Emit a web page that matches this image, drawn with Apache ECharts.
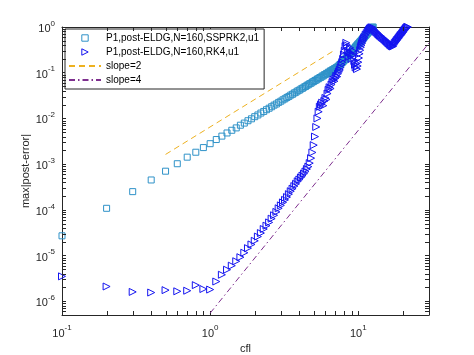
<!DOCTYPE html>
<html><head><meta charset="utf-8">
<script src="https://cdn.jsdelivr.net/npm/echarts@6/dist/echarts.min.js"></script>
<style>html,body{margin:0;padding:0;background:#fff}#c{width:474px;height:355px}</style>
</head><body><div id="c"></div>
<script>
// ---- data ----
const cflSq = [0.1,0.2,0.3,0.4,0.5,0.6,0.7,0.8,0.9,1.0,1.1,1.2,1.3,1.4,1.5,1.6,1.7,1.8,1.9,2.0,
  2.1,2.2,2.3,2.4,2.5,2.6,2.7,2.8,2.9,3.0,3.1,3.2,3.3,3.4,3.5,3.6,3.7,3.8,3.9,4.0,
  4.1,4.2,4.3,4.4,4.5,4.6,4.7,4.8,4.9,5.0,5.1,5.2,5.3,5.4,5.5,5.6,5.7,5.8,5.9,6.0,
  6.1,6.2,6.3,6.4,6.5,6.6,6.7,6.8,6.9,7.0,7.1,7.2,7.3,7.4,7.5,7.6,7.7,7.8,7.9,8.0,
  8.1,8.2,8.3,8.4,8.5,8.6,8.7,8.8,8.9,9.0,9.1,9.2,9.3,9.4,9.5,9.6,9.7,9.8,9.9,10.0,
  10.1,10.2,10.3,10.4,10.5,10.6,10.7,10.8,10.9,11.0,11.1,11.2,11.3,11.4,11.5,11.6,11.7,11.8,11.9,12.0,
  12.1,12.2,12.3,12.4,12.5,12.6];
const errSq = [2.7e-5,1.08e-4,2.5e-4,4.5e-4,7.0e-4,1.02e-3,1.42e-3,1.82e-3,2.3e-3,2.8e-3,
  3.45e-3,4.1e-3,4.8e-3,5.5e-3,6.2e-3,7.1e-3,7.9e-3,8.9e-3,9.8e-3,1.09e-2,
  1.19e-2,1.31e-2,1.42e-2,1.55e-2,1.67e-2,1.80e-2,1.95e-2,2.07e-2,2.24e-2,2.38e-2,
  2.55e-2,2.69e-2,2.88e-2,3.03e-2,3.24e-2,3.38e-2,3.61e-2,3.76e-2,4.0e-2,4.15e-2,
  4.41e-2,4.56e-2,4.84e-2,4.98e-2,5.3e-2,5.45e-2,5.76e-2,5.9e-2,6.26e-2,6.4e-2,
  6.77e-2,6.9e-2,7.3e-2,7.42e-2,7.85e-2,7.95e-2,8.45e-2,8.5e-2,9.05e-2,9.1e-2,
  9.65e-2,9.7e-2,0.103,0.103,0.11,0.11,0.116,0.117,0.123,0.124,
  0.13,0.132,0.138,0.142,0.15,0.155,0.163,0.168,0.177,0.183,
  0.193,0.2,0.21,0.218,0.23,0.24,0.252,0.262,0.276,0.287,
  0.3,0.31,0.325,0.338,0.355,0.37,0.385,0.4,0.415,0.43,
  0.445,0.46,0.478,0.495,0.515,0.53,0.55,0.57,0.59,0.61,
  0.63,0.655,0.675,0.7,0.72,0.745,0.77,0.8,0.825,0.85,
  0.88,0.905,0.935,0.96,0.985,1.0];
const cflRk = [0.1,0.2,0.3,0.4,0.5,0.6,0.7,0.8,0.9,1.0,1.1,1.2,1.3,1.4,1.5,1.6,1.7,1.8,1.9,2.0,
  2.1,2.2,2.3,2.4,2.5,2.6,2.7,2.8,2.9,3.0,3.1,3.2,3.3,3.4,3.5,3.6,3.7,3.8,3.9,4.0,
  4.1,4.2,4.3,4.4,4.5,4.6,4.7,4.8,4.9,5.0,5.1,5.2,5.3,5.4,5.5,5.6,5.7,5.8,5.9,6.0,
  6.1,6.2,6.3,6.4,6.5,6.6,6.7,6.8,6.9,7.0,7.1,7.2,7.3,7.4,7.5,7.6,7.7,7.8,7.9,8.0,
  8.1,8.2,8.3,8.4,8.5,8.6,8.7,8.8,8.9,9.0,9.1,9.2,9.3,9.4,9.5,9.6,9.7,9.8,9.9,10.0,
  10.1,10.2,10.3,10.4,10.5,10.6,10.7,10.8,10.9,11.0,
  11.2,11.4,11.6,11.8,12.0,12.2,12.4,12.6,12.8,13.0,
  13.2,13.4,13.6,13.8,14.0,14.2,14.4,14.6,14.8,15.0,
  15.2,15.4,15.6,15.8,16.0,16.2,16.4,16.6,16.8,17.0,
  17.2,17.4,17.6,17.8,18.0,18.2,18.4,18.6,18.8,19.0,
  19.2,19.4,19.6,19.8,20.0,20.2,20.4,20.6,20.8,21.0,
  21.2,21.4,21.6];
const errRk = [3.5e-6,2.1e-6,1.6e-6,1.55e-6,1.75e-6,1.65e-6,1.7e-6,2.25e-6,1.85e-6,1.8e-6,
  2.7e-6,3.8e-6,4.9e-6,6.0e-6,7.5e-6,9.2e-6,1.15e-5,1.45e-5,1.75e-5,2.1e-5,
  2.6e-5,3.1e-5,3.8e-5,4.5e-5,5.3e-5,6.4e-5,7.6e-5,9.0e-5,1.08e-4,1.25e-4,
  1.45e-4,1.65e-4,1.9e-4,2.2e-4,2.55e-4,2.9e-4,3.3e-4,3.7e-4,4.2e-4,4.6e-4,
  5.1e-4,5.6e-4,6.2e-4,6.9e-4,7.8e-4,8.8e-4,1.05e-3,1.35e-3,1.8e-3,2.6e-3,
  4.0e-3,6.5e-3,1.0e-2,1.4e-2,1.8e-2,2.0e-2,2.2e-2,1.9e-2,2.4e-2,2.8e-2,
  2.6e-2,3.5e-2,4.2e-2,4.8e-2,4.5e-2,5.5e-2,6.2e-2,7.0e-2,6.5e-2,7.5e-2,
  8.5e-2,8.2e-2,9.5e-2,0.105,0.115,0.13,0.15,0.17,0.2,0.25,
  0.3,0.38,0.45,0.4,0.3,0.22,0.28,0.35,0.26,0.2,
  0.24,0.3,0.25,0.18,0.15,0.13,0.16,0.12,0.14,0.17,
  0.21,0.26,0.31,0.36,0.4,0.44,0.48,0.52,0.56,0.6,
  0.67,0.73,0.8,0.87,0.93,0.97,0.99,0.93,0.87,0.82,
  0.78,0.75,0.71,0.68,0.65,0.63,0.6,0.58,0.56,0.54,
  0.52,0.5,0.48,0.46,0.44,0.43,0.41,0.4,0.385,0.375,
  0.38,0.41,0.44,0.46,0.48,0.51,0.53,0.555,0.58,0.61,
  0.64,0.665,0.69,0.72,0.76,0.79,0.83,0.87,0.9,0.94,
  0.97,1.0,1.0];
const slope2Cfl = [0.5, 7];
const slope2Err = [1.63e-3, 0.318];
const slope4Cfl = [1, 30];
const slope4Err = [5.5e-7, 0.4455];
const seriesNames = ['P1,post-ELDG,N=160,SSPRK2,u1', 'P1,post-ELDG,N=160,RK4,u1', 'slope=2', 'slope=4'];
const xTickExps = [-1, 0, 1];
const yTickExps = [-6, -5, -4, -3, -2, -1, 0];
const xName = 'cfl';
const yName = 'max|post-error|';
const xRange = [0.1, 30];
const yRange = [5e-7, 1];

// ---- helpers ----
const zip = (a, b) => a.map((v, i) => [v, b[i]]);
const FONT = 'Liberation Sans, Arial, Helvetica, sans-serif';
const AX = '#262626';
function expLabel(exps) {
  return function (v) {
    const l = Math.log10(v), e = Math.round(l);
    if (Math.abs(l - e) > 1e-6 || exps.indexOf(e) < 0) return '';
    return '{b|10}{s|' + e + '}';
  };
}
const rich = {
  b: {fontSize: 11, fontFamily: FONT, color: AX, lineHeight: 15, verticalAlign: 'bottom'},
  s: {fontSize: 8, fontFamily: FONT, color: AX, lineHeight: 15, verticalAlign: 'top'}
};
function minorValues(lo, hi) {
  const out = [];
  for (let e = Math.floor(Math.log10(lo)); e <= Math.ceil(Math.log10(hi)); e++) {
    for (let m = 2; m <= 9; m++) {
      const v = m * Math.pow(10, e);
      if (v > lo * 1.0001 && v < hi * 0.9999) out.push(v);
    }
  }
  return out;
}
const TL = 4;
function baseAxis(range, pos, show) {
  return {
    type: 'log', logBase: 10, min: range[0], max: range[1], position: pos,
    axisLine: {show: true, onZero: false, lineStyle: {color: AX, width: 1}},
    axisTick: {show: true, inside: true, length: TL, lineStyle: {color: AX, width: 1}},
    axisLabel: {show: show},
    splitLine: {show: false}, minorTick: {show: false}
  };
}
const xMain = Object.assign(baseAxis(xRange, 'bottom', true), {
  name: xName, nameLocation: 'middle', nameGap: 28, nameMoveOverlap: false,
  nameTextStyle: {fontSize: 11, fontFamily: FONT, color: AX},
  axisLabel: {show: true, margin: 9, formatter: expLabel(xTickExps), rich: rich}
});
const yMain = Object.assign(baseAxis(yRange, 'left', true), {
  name: yName, nameLocation: 'middle', nameGap: 31, nameMoveOverlap: false,
  nameTextStyle: {fontSize: 11, fontFamily: FONT, color: AX},
  axisLabel: {show: true, margin: 7, formatter: expLabel(yTickExps), rich: rich}
});
const xTop = baseAxis(xRange, 'top', false);
const yRight = baseAxis(yRange, 'right', false);

const sqColor = '#2f92c8';
const rkColor = '#1414f0';
const hideSym = {color: 'transparent', borderColor: 'transparent', borderWidth: 0, opacity: 0};

const chart = echarts.init(document.getElementById('c'), null, {renderer: 'canvas'});
chart.setOption({
  animation: false,
  backgroundColor: '#fff',
  grid: {left: 62, right: 45, top: 27, bottom: 40, containLabel: false, outerBoundsMode: 'none'},
  xAxis: [xMain, xTop],
  yAxis: [yMain, yRight],
  legend: {
    orient: 'vertical', left: 65, top: 29,
    padding: [2, 5, 2, 3], itemGap: 0, itemWidth: 32, itemHeight: 8,
    borderColor: AX, borderWidth: 1, backgroundColor: '#fff',
    textStyle: {fontSize: 10, fontFamily: FONT, color: '#000', lineHeight: 14},
    data: [
      {name: seriesNames[0], itemStyle: {color: 'transparent', borderColor: sqColor, borderWidth: 1}},
      {name: seriesNames[1], itemStyle: {color: 'transparent', borderColor: rkColor, borderWidth: 1}},
      {name: seriesNames[2], itemStyle: hideSym},
      {name: seriesNames[3], itemStyle: hideSym}
    ]
  },
  series: [
    {
      name: seriesNames[3], type: 'line', symbol: 'none', z: 1,
      data: zip(slope4Cfl, slope4Err),
      lineStyle: {color: '#7E2F8E', width: 1, type: [6, 3, 1.5, 3]}
    },
    {
      name: seriesNames[2], type: 'line', symbol: 'none', z: 1,
      data: zip(slope2Cfl, slope2Err),
      lineStyle: {color: '#EDB120', width: 1, type: [6, 4]}
    },
    {
      // marker-only series (no connecting line)
      name: seriesNames[0], type: 'line', symbol: 'rect', symbolSize: 6, showAllSymbol: true, z: 3,
      data: zip(cflSq, errSq),
      lineStyle: {opacity: 0, width: 0},
      itemStyle: {color: 'transparent', borderColor: sqColor, borderWidth: 1}
    },
    {
      name: seriesNames[1], type: 'line', symbol: 'triangle', symbolSize: 7, symbolRotate: -90, showAllSymbol: true, z: 4,
      data: zip(cflRk, errRk),
      lineStyle: {opacity: 0, width: 0},
      itemStyle: {color: 'transparent', borderColor: rkColor, borderWidth: 1}
    },
    {
      name: 'xminor', type: 'custom', silent: true, z: 10,
      data: minorValues(xRange[0], xRange[1]).map(v => [v, yRange[0]]),
      renderItem: function (params, api) {
        const p = api.coord([api.value(0), api.value(1)]);
        const cs = params.coordSys;
        const x = Math.round(p[0]) + 0.5, yb = cs.y + cs.height, yt = cs.y;
        return {type: 'group', children: [
          {type: 'line', shape: {x1: x, y1: yb, x2: x, y2: yb - TL}, style: {stroke: AX, lineWidth: 1}},
          {type: 'line', shape: {x1: x, y1: yt, x2: x, y2: yt + TL}, style: {stroke: AX, lineWidth: 1}}
        ]};
      }
    },
    {
      name: 'yminor', type: 'custom', silent: true, z: 10,
      data: minorValues(yRange[0], yRange[1]).map(v => [xRange[0], v]),
      renderItem: function (params, api) {
        const p = api.coord([api.value(0), api.value(1)]);
        const cs = params.coordSys;
        const y = Math.round(p[1]) + 0.5, xl = cs.x, xr = cs.x + cs.width;
        return {type: 'group', children: [
          {type: 'line', shape: {x1: xl, y1: y, x2: xl + TL, y2: y}, style: {stroke: AX, lineWidth: 1}},
          {type: 'line', shape: {x1: xr, y1: y, x2: xr - TL, y2: y}, style: {stroke: AX, lineWidth: 1}}
        ]};
      }
    }
  ]
});
</script></body></html>
